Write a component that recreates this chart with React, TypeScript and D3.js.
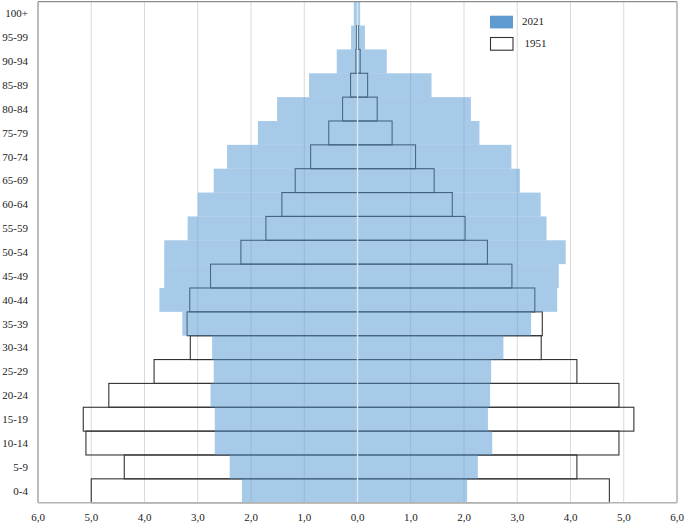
import React from "react";
import * as d3 from "d3";

// age groups, youngest first
const ages = ["0-4", "5-9", "10-14", "15-19", "20-24", "25-29", "30-34", "35-39", "40-44", "45-49", "50-54", "55-59", "60-64", "65-69", "70-74", "75-79", "80-84", "85-89", "90-94", "95-99", "100+"];

// share of population (%), left and right halves
const left2021 = [2.17, 2.4, 2.68, 2.68, 2.76, 2.7, 2.73, 3.29, 3.72, 3.63, 3.63, 3.19, 3.0, 2.7, 2.45, 1.87, 1.51, 0.91, 0.39, 0.12, 0.07];
const right2021 = [2.06, 2.26, 2.53, 2.45, 2.49, 2.51, 2.74, 3.26, 3.75, 3.78, 3.91, 3.55, 3.44, 3.05, 2.89, 2.29, 2.13, 1.39, 0.55, 0.14, 0.05];
const left1951 = [5.0, 4.38, 5.1, 5.15, 4.67, 3.82, 3.14, 3.2, 3.15, 2.76, 2.19, 1.72, 1.42, 1.17, 0.88, 0.54, 0.28, 0.13, 0.03, 0.02, 0];
const right1951 = [4.73, 4.12, 4.91, 5.19, 4.91, 4.12, 3.45, 3.47, 3.33, 2.9, 2.44, 2.02, 1.78, 1.44, 1.09, 0.65, 0.37, 0.19, 0.05, 0.02, 0];

const xTicks = [-6, -5, -4, -3, -2, -1, 0, 1, 2, 3, 4, 5, 6];

const W = 685;
const H = 525;
const FONT = "'Liberation Serif', 'Times New Roman', serif";

export default function App() {
  const x = d3.scaleLinear().domain([-6, 6]).range([38, 677]);
  const y = d3
    .scaleBand<string>()
    .domain([...ages].reverse())
    .range([1.7, 502.7])
    .padding(0);
  const bw = y.bandwidth();
  const fmt = (v: number) => d3.format(".1f")(Math.abs(v)).replace(".", ",");

  return (
    <svg
      width={W}
      height={H}
      style={{ position: "absolute", left: 0, top: 0, background: "#fff" }}
      fontFamily={FONT}
    >
      {/* grid */}
      {xTicks.slice(1, -1).map((t) => (
        <line key={t} x1={x(t)} x2={x(t)} y1={y.range()[0]} y2={y.range()[1]} stroke="#d9d9d9" strokeWidth={1} />
      ))}

      {/* 1951 outlines */}
      {ages.map((a, i) =>
        left1951[i] + right1951[i] > 0 ? (
          <rect
            key={"o" + a}
            x={x(-left1951[i])}
            y={y(a)!}
            width={x(right1951[i]) - x(-left1951[i])}
            height={bw}
            fill="none"
            stroke="#333"
            strokeWidth={1.1}
          />
        ) : null
      )}

      {/* 2021 bars */}
      {ages.map((a, i) => (
        <g key={"b" + a}>
          <rect x={x(-left2021[i])} y={y(a)!} width={x(0) - x(-left2021[i])} height={bw} fill="#5b9bd5" fillOpacity={0.53} />
          <rect x={x(0)} y={y(a)!} width={x(right2021[i]) - x(0)} height={bw} fill="#5b9bd5" fillOpacity={0.53} />
        </g>
      ))}

      {/* zero line */}
      <line x1={x(0)} x2={x(0)} y1={y.range()[0]} y2={y.range()[1]} stroke="#dfe6ee" strokeWidth={1.3} />

      {/* frame */}
      <line x1={38} x2={677} y1={1.7} y2={1.7} stroke="#8c8c8c" strokeWidth={1.2} />
      <line x1={38} x2={38} y1={1.7} y2={502.7} stroke="#8c8c8c" strokeWidth={1.2} />
      <line x1={38} x2={677} y1={502.7} y2={502.7} stroke="#b3b3b3" strokeWidth={1.4} />
      <line x1={677} x2={677} y1={1.7} y2={502.7} stroke="#c4c4c4" strokeWidth={2} />

      {/* y labels */}
      {ages.map((a) => (
        <text key={"l" + a} x={28} y={y(a)! + bw / 2} dy="0.35em" textAnchor="end" fontSize={11} fill="#222">
          {a}
        </text>
      ))}

      {/* x labels */}
      {xTicks.map((t) => (
        <text key={"t" + t} x={x(t)} y={520.5} textAnchor="middle" fontSize={11} fill="#222">
          {fmt(t)}
        </text>
      ))}

      {/* legend */}
      <rect x={490} y={15.7} width={23} height={12.7} fill="#5f9bd1" />
      <text x={522} y={24.8} fontSize={11} fill="#222">2021</text>
      <rect x={490.5} y={37.5} width={22.5} height={12.7} fill="#fff" stroke="#333" strokeWidth={1.1} />
      <text x={524.5} y={47} fontSize={11} fill="#222">1951</text>
    </svg>
  );
}
